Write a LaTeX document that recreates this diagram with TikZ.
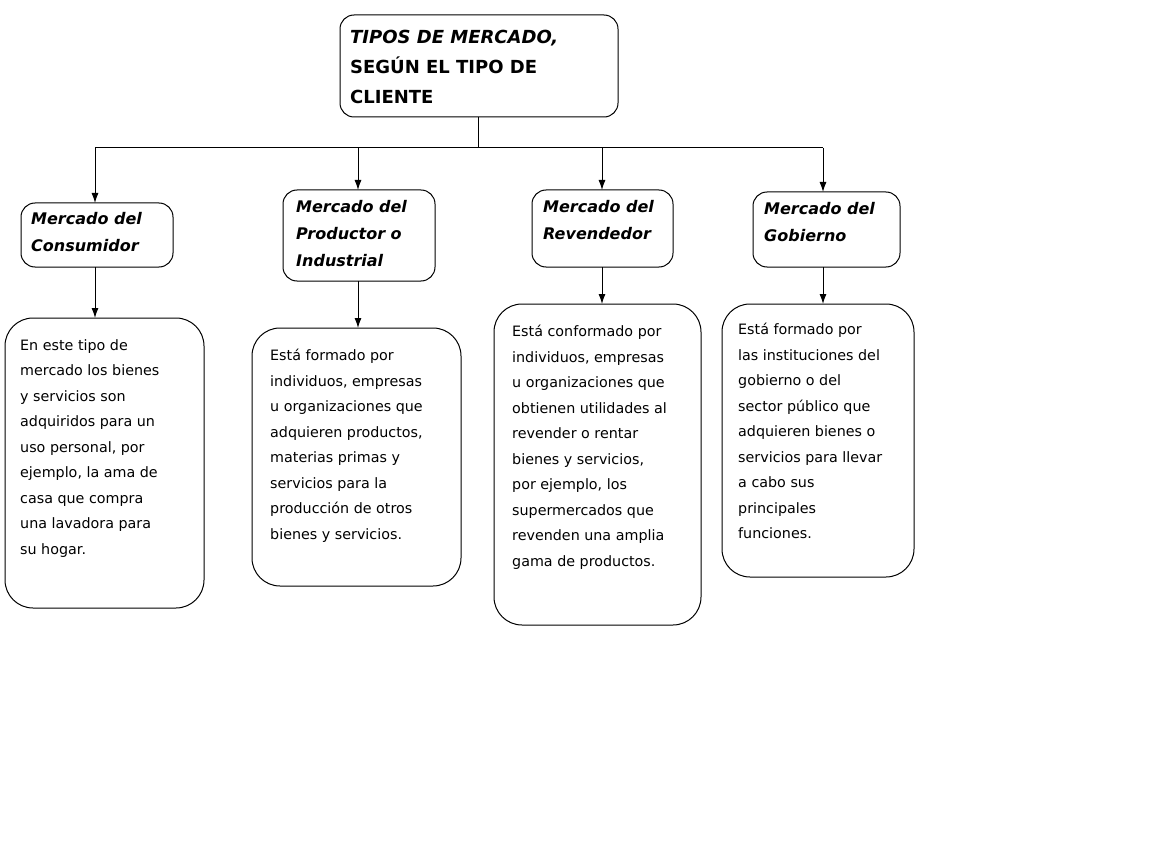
\documentclass[tikz,border=0pt]{standalone}
\usepackage{fontspec}
\setmainfont{DejaVu Sans}
\usetikzlibrary{arrows.meta}
\begin{document}
\begin{tikzpicture}[x=1pt,y=-1pt,
 box/.style={draw,line width=1pt,rounded corners=14pt},
 bigbox/.style={draw,line width=1pt,rounded corners=28pt},
 txt/.style={anchor=north west,align=left,inner sep=0pt,font=\fontsize{14.3}{25.5}\selectfont},
 hd/.style={anchor=north west,align=left,inner sep=0pt,font=\fontsize{16}{27}\selectfont\bfseries\itshape},
 arr/.style={line width=1pt,-{Latex[length=10pt,width=7pt]}}]
\useasboundingbox[fill=white] (0,0) rectangle (1152,864);
% title
\draw[box] (340,15) rectangle (618,117);
\node[anchor=north west,align=left,inner sep=0pt,font=\fontsize{18}{30}\selectfont\bfseries] (t) at (350,30) {\itshape TIPOS DE MERCADO,\\SEGÚN EL TIPO DE\\CLIENTE};
\coordinate (tb) at (478,117);
\coordinate (j) at (478,148);
\coordinate (l) at (95,148);
\coordinate (r) at (823,148);
\draw[line width=1pt] (tb) -- (j);
\draw[line width=1pt] (l) -- (r);
% level 2
\draw[box] (21,203) rectangle (173,267); \node[hd] (a) at (31,212) {Mercado del\\Consumidor};
\draw[box] (283,190) rectangle (435,281); \node[hd] (b) at (296,200) {Mercado del\\Productor o\\Industrial};
\draw[box] (532,190) rectangle (673,267); \node[hd] (c) at (543,200) {Mercado del\\Revendedor};
\draw[box] (753,192) rectangle (900,267); \node[hd] (d) at (764,202) {Mercado del\\Gobierno};
\draw[arr] (95,148) -- (95,203);
\draw[arr] (358,148) -- (358,190);
\draw[arr] (602,148) -- (602,190);
\draw[arr] (823,148) -- (823,192);
% level 3
\draw[bigbox] (5,318) rectangle (204,608);
\draw[bigbox] (252,328) rectangle (461,586);
\draw[bigbox] (494,304) rectangle (701,625);
\draw[bigbox] (722,304) rectangle (914,577);
\draw[arr] (95,267) -- (95,318);
\draw[arr] (358,281) -- (358,328);
\draw[arr] (602,267) -- (602,304);
\draw[arr] (823,267) -- (823,304);
\node[txt] (ta) at (20,339) {En este tipo de\\mercado los bienes\\y servicios son\\adquiridos para un\\uso personal, por\\ejemplo, la ama de\\casa que compra\\una lavadora para\\su hogar.};
\node[txt] (tbx) at (270,349) {Está formado por\\individuos, empresas\\u organizaciones que\\adquieren productos,\\materias primas y\\servicios para la\\producción de otros\\bienes y servicios.};
\node[txt] (tc) at (512,325) {Está conformado por\\individuos, empresas\\u organizaciones que\\obtienen utilidades al\\revender o rentar\\bienes y servicios,\\por ejemplo, los\\supermercados que\\revenden una amplia\\gama de productos.};
\node[txt] (td) at (738,323) {Está formado por\\las instituciones del\\gobierno o del\\sector público que\\adquieren bienes o\\servicios para llevar\\a cabo sus\\principales\\funciones.};
\end{tikzpicture}
\end{document}
